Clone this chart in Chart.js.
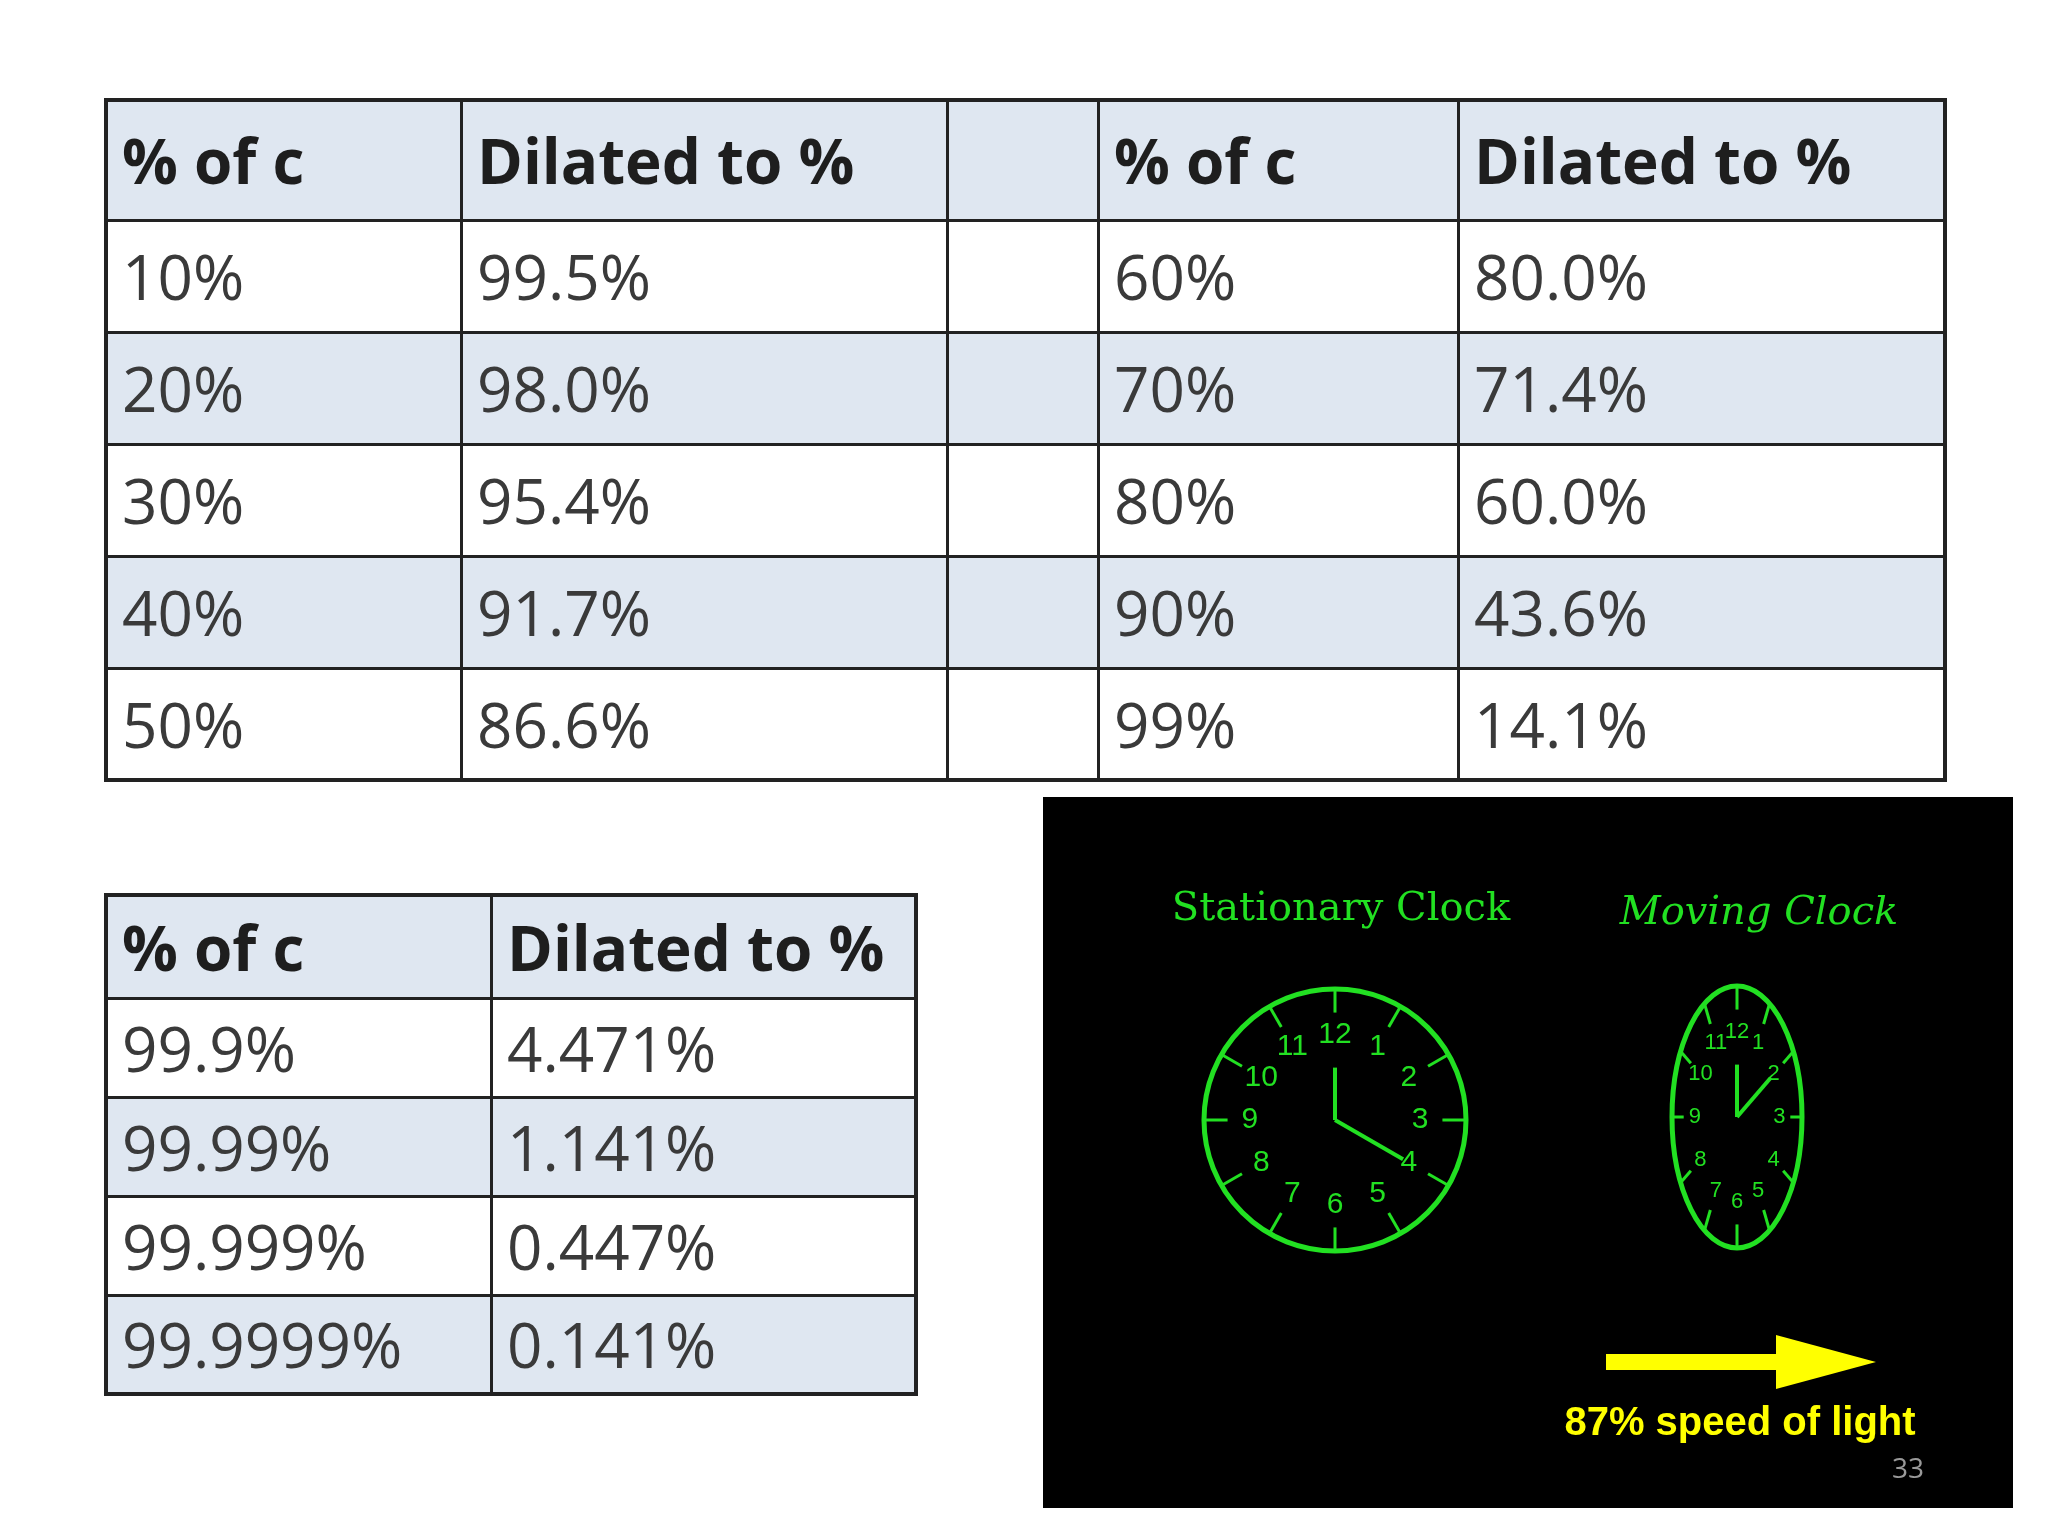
<!DOCTYPE html>
<html><head><meta charset="utf-8">
<script src="https://cdn.jsdelivr.net/npm/chart.js@4"></script>
<style>
body{margin:0;width:2048px;height:1536px;background:#fff;position:relative;overflow:hidden;font-family:"Open Sans","Liberation Sans",sans-serif}
table{position:absolute;border-collapse:collapse;border:4px solid #222}
td{border:3px solid #222;color:#3a3a3a;font-size:62px;padding:0 0 0 14px;white-space:nowrap}
tr.h td{font-weight:bold;color:#1e1e1e;background:#dfe7f1}
tr.b td{background:#dfe7f1}
#panel{position:absolute;left:1043px;top:797px;width:970px;height:711px;background:#000}
#pg{position:absolute;left:1892px;top:1448px;color:#999;font-size:28px}
</style></head><body>
<table id="t1" style="left:104px;top:98px"></table>
<table id="t2" style="left:104px;top:893px"></table>
<div id="panel"><canvas id="clk" width="970" height="711"></canvas></div>
<div id="pg">33</div>
<script>
const headers = ['% of c', 'Dilated to %'];
const speedsA = ['10%', '20%', '30%', '40%', '50%'];
const dilatedA = ['99.5%', '98.0%', '95.4%', '91.7%', '86.6%'];
const speedsB = ['60%', '70%', '80%', '90%', '99%'];
const dilatedB = ['80.0%', '71.4%', '60.0%', '43.6%', '14.1%'];
const speedsC = ['99.9%', '99.99%', '99.999%', '99.9999%'];
const dilatedC = ['4.471%', '1.141%', '0.447%', '0.141%'];

function buildTable(el, widths, headH, rowH, rows) {
  let html = '<tr class="h" style="height:' + headH + 'px">' + rows[0].map((c, i) => '<td style="width:' + (widths[i] - 17) + 'px">' + c + '</td>').join('') + '</tr>';
  rows.slice(1).forEach((r, k) => {
    html += '<tr class="' + (k % 2 ? 'b' : '') + '" style="height:' + rowH + 'px">' + r.map(c => '<td>' + c + '</td>').join('') + '</tr>';
  });
  document.getElementById(el).innerHTML = html;
}
buildTable('t1', [355, 486, 151, 360, 486], 120, 112,
  [[headers[0], headers[1], '', headers[0], headers[1]]].concat(speedsA.map((s, i) => [s, dilatedA[i], '', speedsB[i], dilatedB[i]])));
buildTable('t2', [385, 424], 103, 99,
  [headers].concat(speedsC.map((s, i) => [s, dilatedC[i]])));

// clocks panel
const G = '#22e022';
function clock(ctx, cx, cy, rx, ry, hourAng, minAng) {
  ctx.save();
  ctx.strokeStyle = G; ctx.fillStyle = G; ctx.lineWidth = 5;
  ctx.beginPath(); ctx.ellipse(cx, cy, rx, ry, 0, 0, Math.PI * 2); ctx.stroke();
  ctx.lineWidth = 3;
  for (let i = 0; i < 12; i++) {
    const a = i * Math.PI / 6;
    ctx.beginPath();
    ctx.moveTo(cx + Math.sin(a) * rx, cy - Math.cos(a) * ry);
    ctx.lineTo(cx + Math.sin(a) * rx * 0.82, cy - Math.cos(a) * ry * 0.82);
    ctx.stroke();
    const n = i === 0 ? 12 : i;
    ctx.font = (rx > 100 ? 30 : 22) + 'px "Liberation Sans"';
    ctx.textAlign = 'center'; ctx.textBaseline = 'middle';
    ctx.fillText(n, cx + Math.sin(a) * rx * 0.65, cy - Math.cos(a) * ry * 0.65);
  }
  ctx.lineWidth = 4;
  [[hourAng, 0.4], [minAng, 0.6]].forEach(([a, l]) => {
    ctx.beginPath(); ctx.moveTo(cx, cy);
    ctx.lineTo(cx + Math.sin(a) * rx * l, cy - Math.cos(a) * ry * l); ctx.stroke();
  });
  ctx.restore();
}
new Chart(document.getElementById('clk'), {
  type: 'scatter',
  data: { datasets: [] },
  options: {
    responsive: false, animation: false,
    plugins: { legend: { display: false }, tooltip: { enabled: false } },
    scales: { x: { display: false }, y: { display: false } }
  },
  plugins: [{
    id: 'clocks',
    afterDraw(chart) {
      const ctx = chart.ctx;
      ctx.save();
      ctx.fillStyle = G; ctx.textAlign = 'center'; ctx.textBaseline = 'middle';
      ctx.font = '40px "DejaVu Serif"';
      ctx.fillText('Stationary Clock', 298, 113);
      ctx.font = 'italic 40px "DejaVu Serif"';
      ctx.fillText('Moving Clock', 716, 117);
      clock(ctx, 292, 323, 131, 131, 0, Math.PI * 2 * 4 / 12);
      clock(ctx, 694, 320, 65, 131, 0, Math.PI * 2 * 2 / 12);
      ctx.fillStyle = '#ffff00'; ctx.strokeStyle = '#ffff00'; ctx.lineWidth = 16;
      ctx.beginPath(); ctx.moveTo(563, 565); ctx.lineTo(740, 565); ctx.stroke();
      ctx.beginPath(); ctx.moveTo(733, 538); ctx.lineTo(833, 565); ctx.lineTo(733, 592); ctx.closePath(); ctx.fill();
      ctx.font = 'bold 40px "Liberation Sans"';
      ctx.fillText('87% speed of light', 697, 627);
      ctx.restore();
    }
  }]
});
</script>
</body></html>
